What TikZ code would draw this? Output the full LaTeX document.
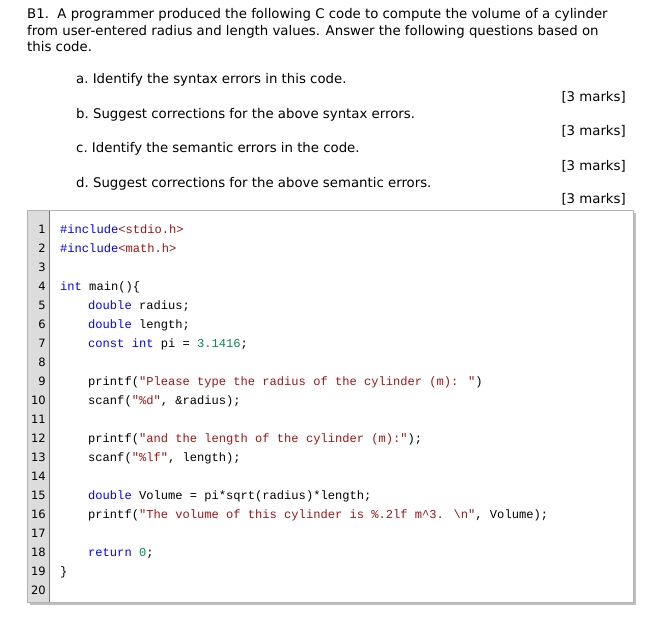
\documentclass[tikz,border=0pt]{standalone}
\usepackage{fontspec}
\setmainfont{DejaVu Sans}
\newfontfamily\codefont{Liberation Mono}
\definecolor{kw}{RGB}{0,0,255}
\definecolor{st}{RGB}{163,21,21}
\definecolor{nm}{RGB}{9,134,88}
\definecolor{gut}{RGB}{220,220,220}
\newcommand{\K}[1]{\textcolor{kw}{#1}}
\newcommand{\Sg}[1]{\textcolor{st}{#1}}
\newcommand{\N}[1]{\textcolor{nm}{#1}}
\begin{document}
\begin{tikzpicture}[x=1pt,y=-1pt,
  txt/.style={anchor=base west,inner sep=0,font=\fontsize{13.3}{15}\selectfont},
  marktxt/.style={anchor=base east,inner sep=0,font=\fontsize{13.3}{15}\selectfont},
  code/.style={anchor=base west,inner sep=0,font=\codefont\fontsize{12.1}{14}\selectfont},
  num/.style={anchor=base east,inner sep=0,font=\fontsize{11.5}{13}\selectfont}]
\useasboundingbox (0,0) rectangle (667,629);
\fill[white] (0,0) rectangle (667,629);
\node[txt] (t1) at (27,19) {B1.\ \ A programmer produced the following C code to compute the volume of a cylinder};
\node[txt] (t2) at (27,35) {from user-entered radius and length values. Answer the following questions based on};
\node[txt] (t3) at (27,51) {this code.};
\node[txt] (qa) at (76,83) {a.\ Identify the syntax errors in this code.};
\node[marktxt] (ma) at (626,101) {[3 marks]};
\node[txt] (qb) at (76,118) {b.\ Suggest corrections for the above syntax errors.};
\node[marktxt] (mb) at (626,135) {[3 marks]};
\node[txt] (qc) at (76,152) {c.\ Identify the semantic errors in the code.};
\node[marktxt] (mc) at (626,170) {[3 marks]};
\node[txt] (qd) at (76,187) {d.\ Suggest corrections for the above semantic errors.};
\node[marktxt] (md) at (626,203) {[3 marks]};
% box
\fill[black!25] (30,213) rectangle (636,605);
\fill[white] (27,210) rectangle (633,602);
\fill[gut] (27,210) rectangle (49,602);
\draw[black!55,line width=1.5] (49.5,210) -- (49.5,602);
\draw[black!30] (27,210) rectangle (633,602);
\foreach \i in {1,...,20} {\node[num] (n\i) at (46,{229+4+(\i-1)*19}) {\i};}
\def\L#1#2{\node[code] at (#1,{233+(#2-1)*19})}
\L{60}{1} (c1) {\K{\#include}\Sg{<stdio.h>}};
\L{60}{2} (c2) {\K{\#include}\Sg{<math.h>}};
\L{60}{4} (c4) {\K{int} main()\{};
\L{88}{5} (c5) {\K{double} radius;};
\L{88}{6} (c6) {\K{double} length;};
\L{88}{7} (c7) {\K{const} \K{int} pi = \N{3.1416};};
\L{88}{9} (c9) {printf(\Sg{"Please type the radius of the cylinder (m): "})};
\L{88}{10} (c10) {scanf(\Sg{"\%d"}, \&radius);};
\L{88}{12} (c12) {printf(\Sg{"and the length of the cylinder (m):"});};
\L{88}{13} (c13) {scanf(\Sg{"\%lf"}, length);};
\L{88}{15} (c15) {\K{double} Volume = pi*sqrt(radius)*length;};
\L{88}{16} (c16) {printf(\Sg{"The volume of this cylinder is \%.2lf m\string^3. \textbackslash n"}, Volume);};
\L{88}{18} (c18) {\K{return} \N{0};};
\L{60}{19} (c19) {\}};
\end{tikzpicture}
\end{document}
